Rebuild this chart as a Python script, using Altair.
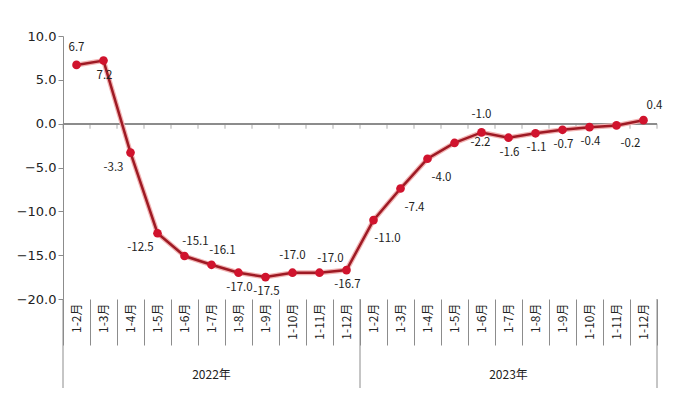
import altair as alt
import pandas as pd

years = ["2022年", "2023年"]
months = ["1-2月", "1-3月", "1-4月", "1-5月", "1-6月", "1-7月",
          "1-8月", "1-9月", "1-10月", "1-11月", "1-12月"]
values_2022 = [6.7, 7.2, -3.3, -12.5, -15.1, -16.1, -17.0, -17.5, -17.0, -17.0, -16.7]
values_2023 = [-11.0, -7.4, -4.0, -2.2, -1.0, -1.6, -1.1, -0.7, -0.4, -0.2, 0.4]
# label placement group for each point (t=top, tr=top-right, b=below, bl=below-left, br=below-right, r=right)
label_pos_2022 = ["t", "b", "bl", "bl", "tr", "tr", "b", "b", "t", "tr", "b"]
label_pos_2023 = ["br", "br", "br", "r", "t", "b", "b", "b", "b", "br", "tr"]
y_ticks = [10, 5, 0, -5, -10, -15, -20]

rows = []
for yr, vals, poss in [(years[0], values_2022, label_pos_2022), (years[1], values_2023, label_pos_2023)]:
    for m, v, p in zip(months, vals, poss):
        rows.append({"cat": yr + "|" + m, "year": yr, "month": m, "value": v,
                     "label": f"{v:.1f}", "pos": p})
df = pd.DataFrame(rows)
cats = list(df["cat"])

W, H = 594, 263
FONT_CJK = "Noto Sans CJK SC"
GRAY = "#8c8c8c"

xscale = alt.Scale(domain=cats, paddingInner=0, paddingOuter=0)
yscale = alt.Scale(domain=[-20, 10], nice=False, zero=False)

x_enc = alt.X("cat:N", sort=cats, scale=xscale,
              axis=alt.Axis(title=None, labelAngle=270, tickBand="extent", tickSize=46,
                            tickColor=GRAY, domain=False, labelPadding=-42,
                            labelExpr="split(datum.label, '|')[1]",
                            labelFont=FONT_CJK, labelFontSize=12, labelColor="#222"))
y_enc = alt.Y("value:Q", scale=yscale,
              axis=alt.Axis(title=None, values=y_ticks, format=".1f", grid=False,
                            domainColor=GRAY, tickColor=GRAY, tickSize=5,
                            labelFont="DejaVu Sans", labelFontSize=13, labelColor="#222",
                            labelPadding=2))

base = alt.Chart(df)

zero_line = base.mark_rule(color=GRAY, strokeWidth=1).encode(
    x=alt.value(0), x2=alt.value(W), y=alt.datum(0, scale=yscale))

zero_ticks = base.mark_tick(orient="vertical", size=5, thickness=1, yOffset=2.5, color=GRAY).encode(
    x=alt.X("cat:N", sort=cats, scale=xscale, bandPosition=0),
    y=alt.datum(0))
zero_tick_end = base.transform_filter(alt.datum.cat == cats[-1]).mark_tick(
    orient="vertical", size=5, thickness=1, yOffset=2.5, color=GRAY).encode(
    x=alt.X("cat:N", sort=cats, scale=xscale, bandPosition=1),
    y=alt.datum(0))

year_first = [c for c in cats if c.endswith("|" + months[0])]
dividers = base.transform_filter(alt.FieldOneOfPredicate(field="cat", oneOf=year_first)).mark_rule(
    color=GRAY, strokeWidth=1).encode(
    x=alt.X("cat:N", sort=cats, scale=xscale, bandPosition=0),
    y=alt.value(H), y2=alt.value(H + 89))
divider_end = base.transform_filter(alt.datum.cat == cats[-1]).mark_rule(
    color=GRAY, strokeWidth=1).encode(
    x=alt.X("cat:N", sort=cats, scale=xscale, bandPosition=1),
    y=alt.value(H), y2=alt.value(H + 89))

mid_month = months[len(months) // 2]
year_labels = base.transform_filter(alt.datum.month == mid_month).mark_text(
    font=FONT_CJK, fontSize=12, color="#222", baseline="middle").encode(
    x=alt.X("cat:N", sort=cats, scale=xscale),
    y=alt.value(H + 76),
    text="year:N")

halo = base.mark_line(color="#f2b3b3", strokeWidth=5).encode(
    x=alt.X("cat:N", sort=cats, scale=xscale), y=alt.Y("value:Q", scale=yscale))
line = base.mark_line(color="#9e1a24", strokeWidth=2.5).encode(x=x_enc, y=y_enc)
points = base.mark_circle(color="#d0132d", size=75, opacity=1).encode(
    x=alt.X("cat:N", sort=cats, scale=xscale), y=alt.Y("value:Q", scale=yscale))

offsets = {"t": (0, -17), "tr": (11, -14), "b": (1, 15), "bl": (-17, 15),
           "br": (14, 19), "r": (26, 0)}
label_layers = []
for p, (dx, dy) in offsets.items():
    label_layers.append(
        base.transform_filter(alt.datum.pos == p).mark_text(
            font=FONT_CJK, fontSize=11.5, color="#222", dx=dx, dy=dy).encode(
            x=alt.X("cat:N", sort=cats, scale=xscale),
            y=alt.Y("value:Q", scale=yscale),
            text="label:N"))

chart = alt.layer(line, zero_line, zero_ticks, zero_tick_end, dividers, divider_end,
                  year_labels, halo, line, points, *label_layers).properties(
    width=W, height=H, background="white",
    padding={"left": 8, "top": 22, "right": 5, "bottom": 5},
).configure_view(strokeWidth=0, stroke="transparent")

chart.save("out.html", embed_options={"renderer": "svg", "actions": False})
